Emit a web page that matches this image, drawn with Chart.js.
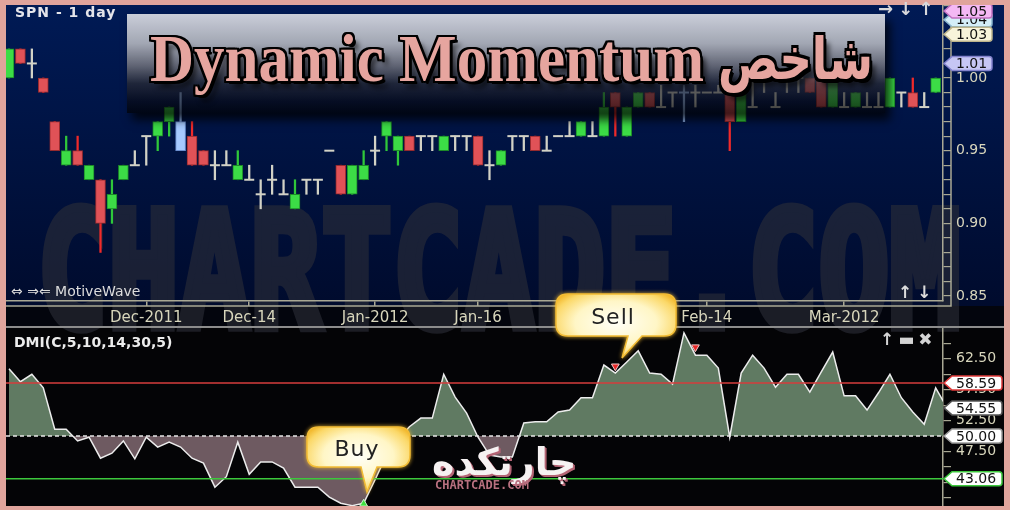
<!DOCTYPE html>
<html>
<head>
<meta charset="utf-8">
<script src="https://cdn.jsdelivr.net/npm/chart.js@4.4.1/dist/chart.umd.min.js"></script>
<style>
  html, body { margin: 0; padding: 0; }
  body {
    width: 1010px; height: 510px; position: relative; overflow: hidden;
    background: #e0a49c; font-family: "DejaVu Sans", sans-serif;
  }
  .abs { position: absolute; }
  #topBg { left: 6px; top: 5px; width: 998px; height: 301px; background: linear-gradient(#001a55, #000b2d); }
  #dateBg { left: 6px; top: 306px; width: 998px; height: 20px; background: #03050d; }
  #sep { left: 6px; top: 326px; width: 998px; height: 2px; background: #8c8c8c; }
  #lowBg { left: 6px; top: 328px; width: 998px; height: 178px; background: #040406; }
  #watermark {
    left: 37px; top: 191px; font: bold 118px/118px "DejaVu Sans Mono", monospace;
    color: #2c2e38; -webkit-text-stroke: 7px #2c2e38; opacity: 0.6;
    transform: scaleY(1.36); transform-origin: 0 0; white-space: nowrap;
  }
  canvas { position: absolute; }
  #priceChart { left: 6px; top: 5px; }
  #dmiChart { left: 6px; top: 328px; }
  .txt { position: absolute; white-space: nowrap; color: #e4e4ea; }
  #banner {
    left: 127px; top: 14px; width: 758px; height: 99px;
    background: linear-gradient(rgba(206,210,220,0.98) 0%, rgba(170,174,184,0.95) 30%,
      rgba(110,112,122,0.88) 52%, rgba(45,46,52,0.7) 70%, rgba(10,10,14,0.62) 88%, rgba(0,0,0,0.7) 100%);
    box-shadow: 5px 7px 9px rgba(0,0,0,0.75);
  }
  .title {
    position: absolute; white-space: nowrap; color: #e6a59f; font-weight: bold;
    text-shadow: 2px 0 0 #000, -2px 0 0 #000, 0 2px 0 #000, 0 -2px 0 #000,
      2px 2px 0 #000, -2px -2px 0 #000, 2px -2px 0 #000, -2px 2px 0 #000,
      3px 3px 0 #000, 6px 6px 5px rgba(0,0,0,0.55);
  }
  #titleEn { left: 150px; top: 30px; font-size: 61px; line-height: 61px; font-family: "Liberation Serif", serif;
    transform: scaleY(1.12); transform-origin: 0 51px; }
  #titleFa { left: 718px; top: 41px; font-size: 45px; line-height: 45px; font-family: "DejaVu Sans", sans-serif;
    transform: scaleY(1.3); transform-origin: 0 38px; }
  svg.callout { position: absolute; filter: drop-shadow(0 0 2px rgba(245,190,50,0.9)); }
  #logoFa { left: 432px; top: 443px; font: bold 38px/38px "DejaVu Sans", sans-serif; color: #f6f2f2;
    text-shadow: 2px 2px 0 #b46474, 1px 1px 0 #b46474; }
  #logoEn { left: 435px; top: 479px; font: bold 12px/12px "DejaVu Sans Mono", monospace; color: #b8707f; }
</style>
</head>
<body>
<div id="topBg" class="abs"></div>
<div id="dateBg" class="abs"></div>
<div id="lowBg" class="abs"></div>
<div id="watermark" class="abs">CHARTCADE.COM</div>
<canvas id="priceChart" width="998" height="322"></canvas>
<canvas id="dmiChart" width="998" height="178"></canvas>
<div id="sep" class="abs"></div>

<div class="txt" style="left:15px;top:4px;font:bold 14px 'DejaVu Sans';letter-spacing:1px;">SPN - 1 day</div>
<div class="txt" style="left:878px;top:-2px;font:bold 18px 'DejaVu Sans';letter-spacing:5px;color:#d8d8dc;">→↓↑</div>
<div class="txt" style="left:11px;top:283px;font:14px 'DejaVu Sans';color:#dcdcdc;">⇔ ⇒⇐ MotiveWave</div>
<div class="txt" style="left:898px;top:282px;font:bold 17px 'DejaVu Sans';letter-spacing:5px;color:#dcdcdc;">↑↓</div>
<div class="txt" style="left:14px;top:334px;font:bold 14px 'DejaVu Sans';color:#ececec;">DMI(C,5,10,14,30,5)</div>
<div class="txt" style="left:880px;top:329px;font:bold 17px 'DejaVu Sans';letter-spacing:4px;color:#d4d4d4;">↑▬✖</div>

<div id="banner" class="abs"></div>
<div id="titleEn" class="title">Dynamic Momentum</div>
<div id="titleFa" class="title">شاخص</div>

<svg class="callout" style="left:300px;top:420px" width="120" height="80">
  <defs>
    <radialGradient id="gBuy" cx="50%" cy="45%" r="62%">
      <stop offset="0" stop-color="#fffff8"/><stop offset="0.55" stop-color="#fff6c6"/>
      <stop offset="0.85" stop-color="#fbd868"/><stop offset="1" stop-color="#f1b425"/>
    </radialGradient>
  </defs>
  <path d="M19 7 H98 Q110 7 110 19 V35 Q110 47 98 47 H77 L67 72 L61 47 H19 Q7 47 7 35 V19 Q7 7 19 7 Z" fill="url(#gBuy)" stroke="#f2bc35" stroke-width="1.5"/>
  <text x="57" y="28" text-anchor="middle" dominant-baseline="central" font-family="DejaVu Sans" font-size="22" letter-spacing="1" fill="#222">Buy</text>
</svg>
<svg class="callout" style="left:550px;top:288px" width="132" height="76">
  <defs>
    <radialGradient id="gSell" cx="50%" cy="45%" r="62%">
      <stop offset="0" stop-color="#fffff8"/><stop offset="0.55" stop-color="#fff6c6"/>
      <stop offset="0.85" stop-color="#fbd868"/><stop offset="1" stop-color="#f1b425"/>
    </radialGradient>
  </defs>
  <path d="M18 6 H114 Q126 6 126 18 V36 Q126 48 114 48 H92 L72 70 L78 48 H18 Q6 48 6 36 V18 Q6 6 18 6 Z" fill="url(#gSell)" stroke="#f2bc35" stroke-width="1.5"/>
  <text x="63" y="28" text-anchor="middle" dominant-baseline="central" font-family="DejaVu Sans" font-size="22" letter-spacing="1" fill="#222">Sell</text>
</svg>

<div id="logoFa" class="txt">چارتکده</div>
<div id="logoEn" class="txt">CHARTCADE.COM</div>

<script>
// Velas diarias (índice 0 = primera barra visible)
const opens  = [1.00,1.02,1.01,1.00,0.97,0.94,0.95,0.93,0.93,0.91, 0.93,0.94,0.96,0.96,0.97,0.97,0.96,0.95,0.94,0.94,
                0.93,0.93,0.92,0.93,0.92,0.91,0.93,0.93,0.95,0.94, 0.92,0.93,0.95,0.96,0.95,0.96,0.96,0.96,0.95,0.96,
                0.96,0.96,0.94,0.94,0.96,0.96,0.96,0.95,0.96,0.96, 0.96,0.96,0.96,0.99,0.96,0.98,0.99,0.98,0.99,0.99,
                0.99,0.99,0.99,0.99,0.97,0.98,1.00,0.98,1.00,1.00, 1.00,1.00,0.98,0.98,0.98,0.98,0.98,0.98,0.99,0.99,
                0.98,0.99];
const highs  = [1.02,1.02,1.02,1.00,0.97,0.96,0.96,0.94,0.93,0.93, 0.94,0.95,0.96,0.97,0.98,0.99,0.97,0.95,0.95,0.95,
                0.95,0.94,0.93,0.94,0.93,0.93,0.93,0.93,0.95,0.94, 0.94,0.95,0.96,0.97,0.96,0.96,0.96,0.96,0.96,0.96,
                0.96,0.96,0.95,0.95,0.96,0.96,0.96,0.96,0.96,0.97, 0.97,0.97,0.99,0.99,0.98,0.99,0.99,0.995,0.99,0.995,
                0.995,0.99,0.995,0.99,0.995,1.00,1.00,0.99,1.00,1.00, 1.00,1.00,1.00,0.99,0.99,0.99,0.99,1.00,0.99,1.00,
                0.99,1.00];
const lows   = [1.00,1.01,1.00,0.99,0.95,0.94,0.94,0.93,0.88,0.90, 0.93,0.94,0.94,0.95,0.96,0.95,0.94,0.94,0.93,0.94,
                0.93,0.93,0.91,0.92,0.92,0.91,0.92,0.92,0.95,0.92, 0.92,0.93,0.94,0.95,0.94,0.95,0.95,0.95,0.95,0.95,
                0.95,0.94,0.93,0.94,0.95,0.95,0.95,0.95,0.96,0.96, 0.96,0.96,0.96,0.96,0.96,0.98,0.98,0.98,0.98,0.97,
                0.98,0.99,0.99,0.95,0.97,0.98,0.99,0.98,0.99,0.99, 0.99,0.98,0.98,0.98,0.98,0.98,0.98,0.98,0.98,0.98,
                0.98,0.99];
const closes = [1.02,1.01,1.01,0.99,0.95,0.95,0.94,0.94,0.90,0.92, 0.94,0.94,0.96,0.97,0.98,0.95,0.94,0.94,0.94,0.94,
                0.94,0.93,0.92,0.93,0.92,0.92,0.93,0.93,0.95,0.92, 0.94,0.94,0.95,0.97,0.96,0.95,0.96,0.96,0.96,0.96,
                0.96,0.94,0.94,0.95,0.96,0.96,0.95,0.95,0.96,0.96, 0.97,0.96,0.98,0.98,0.98,0.99,0.98,0.98,0.99,0.99,
                0.99,0.99,0.99,0.97,0.995,0.98,1.00,0.98,1.00,1.00, 0.99,0.98,1.00,0.98,0.99,0.98,0.98,1.00,0.99,0.98,
                0.98,1.00];
const selectedBars = [15, 59];

// Etiquetas de fecha del eje X
const dateTickIdx    = [12, 21, 32, 41, 61, 73];
const dateTickLabels = ["Dec-2011", "Dec-14", "Jan-2012", "Jan-16", "Feb-14", "Mar-2012"];

// Etiquetas del eje de precios
const priceLabels = [0.85, 0.90, 0.95, 1.00];
const priceTags = [1.04, 1.05, 1.03, 1.01];

// Indicador DMI
const dmi = [60.9,58.8,60.0,57.8,51.1,51.1,49.2,49.8,46.4,47.2, 49.2,46.3,49.8,48.2,49.0,48.2,46.4,45.6,41.7,43.4,
             49.0,43.8,45.8,45.8,44.8,41.7,41.7,41.7,40.1,39.1, 38.7,39.1,42.9,46.9,49.4,51.5,52.9,52.9,60.0,56.3,
             53.7,49.8,46.9,46.6,46.6,52.1,52.3,52.3,53.9,54.2, 56.2,56.2,61.5,60.2,62.0,63.8,60.2,60.0,58.4,66.7,
             63.1,63.1,61.0,49.8,60.2,63.1,61.0,57.9,60.0,60.0, 57.1,60.4,63.6,56.5,56.5,54.2,57.0,60.0,56.2,53.9,
             51.9,57.8,54.55];
const dmiLevels = [58.59, 50.00, 43.06];   // superior, media, inferior
const dmiLabels = [42.5, 47.5, 52.5, 57.5, 62.5];
const dmiTags   = [58.59, 54.55, 50.00, 43.06];
const sellIdx = [53, 60], sellVal = [61.3, 64.4];
const buyIdx  = [31],     buyVal  = [39.0];

// Ventana visible del eje X (en índices de barra)
const X_MIN = -0.26, X_MAX = 81.64;

const AXIS = "#a9a894";
const LABEL = "#d8d6bc";
const GREEN = "#3cdc46", GREEN_EDGE = "#1d8a28";
const RED = "#e05257", RED_EDGE = "#962a2e";
const BLUE = "#a6caff", BLUE_EDGE = "#6a8fd0";
const DOJI = "#d2d2c6";

const idx = closes.map((_, i) => i);
const isDoji = (i) => opens[i] === closes[i];

function bodyColor(i) {
  if (selectedBars.includes(i)) return BLUE;
  return closes[i] > opens[i] ? GREEN : RED;
}
function edgeColor(i) {
  if (selectedBars.includes(i)) return BLUE_EDGE;
  return closes[i] > opens[i] ? GREEN_EDGE : RED_EDGE;
}
function wickColor(i) {
  if (selectedBars.includes(i)) return "#8fb2ea";
  if (isDoji(i)) return DOJI;
  return closes[i] > opens[i] ? "#2fc83a" : "#f02a2a";
}
const near = (list, v) => list.some((t) => Math.abs(t - v) < 1e-6);

// Dibuja una etiqueta con punta a la izquierda sobre el eje
function drawTag(ctx, x, y, w, text, fill, stroke) {
  const h = 14;
  ctx.beginPath();
  ctx.moveTo(x, y);
  ctx.lineTo(x + 8, y - h / 2);
  ctx.lineTo(x + w - 3, y - h / 2);
  ctx.quadraticCurveTo(x + w, y - h / 2, x + w, y - h / 2 + 3);
  ctx.lineTo(x + w, y + h / 2 - 3);
  ctx.quadraticCurveTo(x + w, y + h / 2, x + w - 3, y + h / 2);
  ctx.lineTo(x + 8, y + h / 2);
  ctx.closePath();
  ctx.fillStyle = fill;
  ctx.fill();
  ctx.lineWidth = 1.5;
  ctx.strokeStyle = stroke;
  ctx.stroke();
  ctx.fillStyle = "#111";
  ctx.font = "14px 'DejaVu Sans'";
  ctx.textBaseline = "middle";
  ctx.textAlign = "left";
  ctx.fillText(text, x + 12, y + 1);
}

const priceTagStyles = [
  { fill: "#d4eef8", stroke: "#8cb8d0" },
  { fill: "#f4b8f4", stroke: "#c070c0" },
  { fill: "#f8f4da", stroke: "#bcb48c" },
  { fill: "#c6c6f4", stroke: "#8282cc" },
];
const dmiTagStyles = [
  { fill: "#ffffff", stroke: "#e03a3a" },
  { fill: "#ffffff", stroke: "#555555" },
  { fill: "#ffffff", stroke: "#9a9a9a" },
  { fill: "#ffffff", stroke: "#3cc83c" },
];

const priceDecor = {
  id: "priceDecor",
  afterDraw(chart) {
    const { ctx, chartArea: a } = chart;
    const y = chart.scales.y;
    ctx.save();
    // marco doble de la zona de precios
    ctx.strokeStyle = AXIS;
    ctx.lineWidth = 1.5;
    ctx.beginPath();
    ctx.moveTo(a.left, a.bottom + 5);
    ctx.lineTo(a.right + 8, a.bottom + 5);
    ctx.lineTo(a.right + 8, a.top);
    ctx.stroke();
    priceTags.forEach((p, k) => {
      const py = Math.max(y.getPixelForValue(p), a.top + 6);
      drawTag(ctx, a.right + 1, py, 48, p.toFixed(2), priceTagStyles[k].fill, priceTagStyles[k].stroke);
    });
    ctx.restore();
  },
};

const dmiDecor = {
  id: "dmiDecor",
  afterDraw(chart) {
    const { ctx, chartArea: a } = chart;
    const y = chart.scales.y;
    ctx.save();
    dmiTags.forEach((v, k) => {
      drawTag(ctx, a.right + 1, y.getPixelForValue(v), 58, v.toFixed(2), dmiTagStyles[k].fill, dmiTagStyles[k].stroke);
    });
    ctx.restore();
  },
};

new Chart(document.getElementById("priceChart"), {
  type: "bar",
  data: {
    datasets: [
      {
        label: "Mechas",
        data: idx.map((i) => ({ x: i, y: [lows[i], highs[i]] })),
        backgroundColor: idx.map(wickColor),
        barThickness: 1.6,
        grouped: false,
        order: 3,
      },
      {
        label: "Cuerpos",
        data: idx.filter((i) => !isDoji(i)).map((i) => ({ x: i, y: [opens[i], closes[i]] })),
        backgroundColor: (c) => (c.raw ? bodyColor(c.raw.x) : GREEN),
        borderColor: (c) => (c.raw ? edgeColor(c.raw.x) : GREEN_EDGE),
        borderWidth: 1,
        borderSkipped: false,
        barThickness: 10,
        grouped: false,
        order: 2,
      },
      {
        type: "scatter",
        label: "Doji",
        data: idx.filter(isDoji).map((i) => ({ x: i, y: closes[i] })),
        pointStyle: "line",
        pointRadius: 5,
        pointBorderWidth: 2,
        pointBorderColor: (c) => (c.raw && selectedBars.includes(c.raw.x) ? "#8fb2ea" : DOJI),
        order: 1,
      },
    ],
  },
  options: {
    responsive: false,
    maintainAspectRatio: false,
    animation: false,
    devicePixelRatio: 1,
    layout: { padding: 0, autoPadding: false },
    plugins: { legend: { display: false }, tooltip: { enabled: false } },
    scales: {
      x: {
        type: "linear",
        min: X_MIN,
        max: X_MAX,
        offset: false,
        grid: { drawOnChartArea: false, offset: false, color: AXIS, tickLength: 5, lineWidth: 1.5 },
        border: { color: AXIS, width: 1.5 },
        afterBuildTicks: (s) => { s.ticks = dateTickIdx.map((v) => ({ value: v })); },
        ticks: {
          autoSkip: false,
          maxRotation: 0,
          padding: 3,
          color: LABEL,
          font: { family: "DejaVu Sans", size: 15 },
          callback: (v) => dateTickLabels[dateTickIdx.indexOf(v)],
        },
        afterFit: (s) => { s.height = 26; s.paddingLeft = 0; s.paddingRight = 0; },
      },
      y: {
        position: "right",
        min: 0.8466,
        max: 1.0502,
        grid: { drawOnChartArea: false, color: AXIS, tickLength: 8, lineWidth: 1.2 },
        border: { color: AXIS, width: 1.5 },
        afterBuildTicks: (s) => {
          const t = [];
          for (let c = 85; c <= 105; c++) t.push({ value: c / 100 });
          s.ticks = t;
        },
        ticks: {
          autoSkip: false,
          padding: 5,
          color: LABEL,
          font: { family: "DejaVu Sans", size: 14 },
          callback: (v) => (near(priceLabels, v) ? v.toFixed(2) : ""),
        },
        afterFit: (s) => { s.width = 61; s.paddingTop = 0; s.paddingBottom = 0; },
      },
    },
  },
  plugins: [priceDecor],
});

const levelLine = (v, color, dash) => ({
  label: "Nivel " + v,
  data: [{ x: X_MIN, y: v }, { x: X_MAX + 1, y: v }],
  borderColor: color,
  borderWidth: 1.5,
  borderDash: dash,
  pointRadius: 0,
  fill: false,
  order: 1,
});

new Chart(document.getElementById("dmiChart"), {
  type: "line",
  data: {
    datasets: [
      {
        label: "DMI",
        data: dmi.map((v, i) => ({ x: i, y: v })),
        borderColor: "#ececec",
        borderWidth: 1.5,
        pointRadius: 0,
        tension: 0,
        fill: { target: { value: 50 }, above: "#607a62", below: "#6e5a61" },
        order: 2,
      },
      levelLine(dmiLevels[0], "#d63c3c", []),
      levelLine(dmiLevels[1], "#e6e6e6", [4, 3]),
      levelLine(dmiLevels[2], "#3cc83c", []),
      {
        type: "scatter",
        label: "Venta",
        data: sellIdx.map((x, k) => ({ x, y: sellVal[k] })),
        pointStyle: "triangle",
        rotation: 180,
        pointRadius: 4.5,
        backgroundColor: "#e82828",
        borderColor: "#f2c8c8",
        borderWidth: 1,
        order: 0,
      },
      {
        type: "scatter",
        label: "Compra",
        data: buyIdx.map((x, k) => ({ x, y: buyVal[k] })),
        pointStyle: "triangle",
        pointRadius: 4.5,
        backgroundColor: "#40e040",
        borderColor: "#c8f2c8",
        borderWidth: 1,
        order: 0,
      },
    ],
  },
  options: {
    responsive: false,
    maintainAspectRatio: false,
    animation: false,
    devicePixelRatio: 1,
    layout: { padding: 0, autoPadding: false },
    plugins: { legend: { display: false }, tooltip: { enabled: false } },
    scales: {
      x: { type: "linear", min: X_MIN, max: X_MAX, display: false, offset: false },
      y: {
        position: "right",
        min: 38.65,
        max: 67.5,
        grid: { drawOnChartArea: false, color: AXIS, tickLength: 8, lineWidth: 1.2 },
        border: { color: AXIS, width: 1.5 },
        afterBuildTicks: (s) => {
          const t = [];
          for (let v = 40; v <= 65; v += 2.5) t.push({ value: v });
          s.ticks = t;
        },
        ticks: {
          autoSkip: false,
          padding: 5,
          color: LABEL,
          font: { family: "DejaVu Sans", size: 14 },
          callback: (v) => (near(dmiLabels, v) ? v.toFixed(2) : ""),
        },
        afterFit: (s) => { s.width = 61; s.paddingTop = 0; s.paddingBottom = 0; },
      },
    },
  },
  plugins: [dmiDecor],
});
</script>
</body>
</html>
